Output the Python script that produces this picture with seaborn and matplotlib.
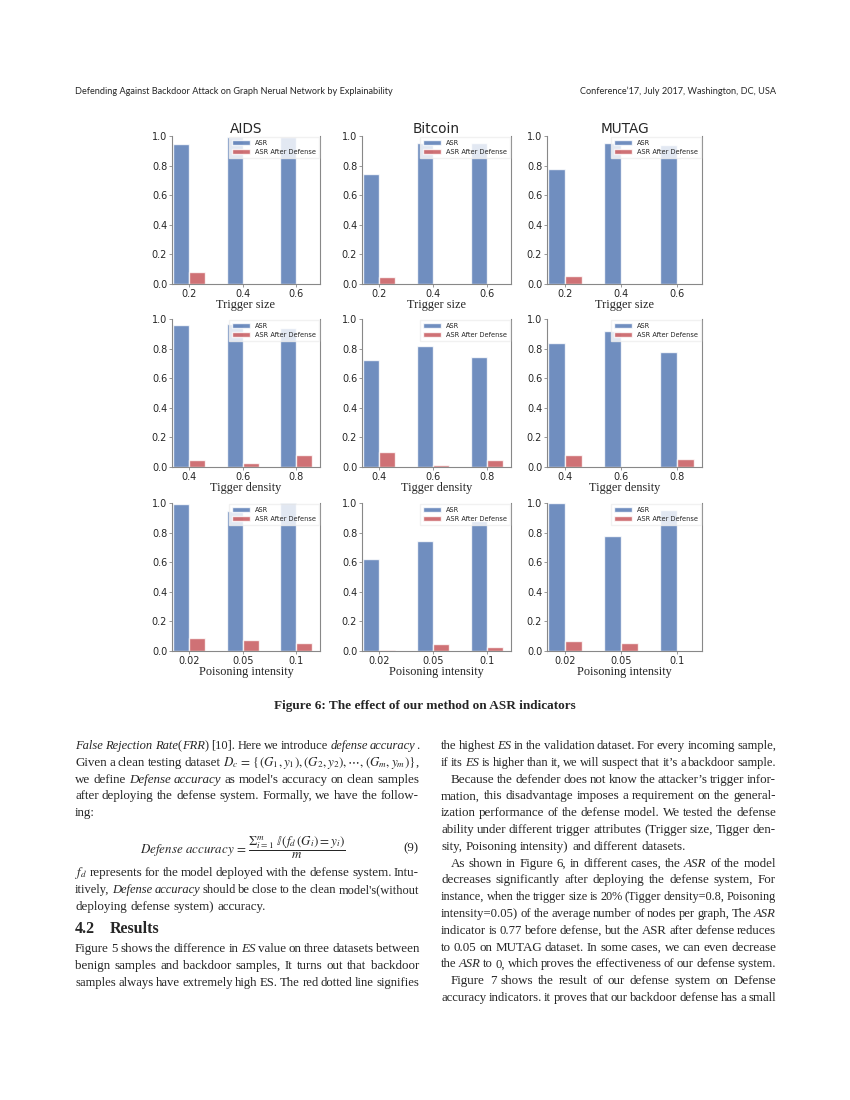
import re
import pandas as pd
import seaborn as sns
import matplotlib
matplotlib.use("Agg")
import matplotlib.pyplot as plt

# ---- data ----
datasets = ["AIDS", "Bitcoin", "MUTAG"]
row_labels = ["Trigger size", "Tigger density", "Poisoning intensity"]
trigger_size = ["0.2", "0.4", "0.6"]
trigger_density = ["0.4", "0.6", "0.8"]
poison_intensity = ["0.02", "0.05", "0.1"]

size_asr = [[0.945, 0.99, 0.99], [0.74, 0.955, 0.95], [0.78, 0.955, 0.94]]
size_after = [[0.08, 0.0, 0.0], [0.045, 0.0, 0.0], [0.055, 0.0, 0.0]]
density_asr = [[0.96, 0.965, 0.94], [0.725, 0.815, 0.74], [0.835, 0.92, 0.78]]
density_after = [[0.05, 0.025, 0.08], [0.10, 0.015, 0.045], [0.08, 0.0, 0.055]]
poison_asr = [[0.995, 0.945, 1.0], [0.625, 0.74, 0.88], [1.0, 0.78, 0.95]]
poison_after = [[0.085, 0.075, 0.055], [0.01, 0.045, 0.03], [0.07, 0.055, 0.0]]

series_names = ["ASR", "ASR After Defense"]
yticks = [0.0, 0.2, 0.4, 0.6, 0.8, 1.0]

header_left = "Defending Against Backdoor Attack on Graph Nerual Network by Explainability"
header_right = "Conference\u201917, July 2017, Washington, DC, USA"
caption = "Figure 6: The effect of our method on ASR indicators"

# (text, justified?, indented?)
left_col_a = [
    ("*False* *Rejection* *Rate*(*FRR*) [10]. Here we introduce *defense* *accuracy*.", True, False),
    (r"Given a clean testing dataset $D_c\,=\,\{(G_1, y_1), (G_2, y_2), \cdots, (G_m, y_m)\}$,", True, False),
    ("we define *Defense* *accuracy* as model's accuracy on clean samples", True, False),
    ("after deploying the defense system. Formally, we have the follow-", True, False),
    ("ing:", False, False),
]
left_col_b = [
    ("$f_d$ represents for the model deployed with the defense system. Intu-", True, False),
    ("itively, *Defense* *accuracy* should be close to the clean model's(without", True, False),
    ("deploying defense system) accuracy.", False, False),
]
left_col_c = [
    ("Figure 5 shows the difference in *ES* value on three datasets between", True, False),
    ("benign samples and backdoor samples, It turns out that backdoor", True, False),
    ("samples always have extremely high ES. The red dotted line signifies", True, False),
]
right_col = [
    ("the highest *ES* in the validation dataset. For every incoming sample,", True, False),
    ("if its *ES* is higher than it, we will suspect that it\u2019s a backdoor sample.", True, False),
    ("Because the defender does not know the attacker\u2019s trigger infor-", True, True),
    ("mation, this disadvantage imposes a requirement on the general-", True, False),
    ("ization performance of the defense model. We tested the defense", True, False),
    ("ability under different trigger attributes (Trigger size, Tigger den-", True, False),
    ("sity, Poisoning intensity) and different datasets.", False, False),
    ("As shown in Figure 6, in different cases, the *ASR* of the model", True, True),
    ("decreases significantly after deploying the defense system, For", True, False),
    ("instance, when the trigger size is 20% (Tigger density=0.8, Poisoning", True, False),
    ("intensity=0.05) of the average number of nodes per graph, The *ASR*", True, False),
    ("indicator is 0.77 before defense, but the ASR after defense reduces", True, False),
    ("to 0.05 on MUTAG dataset. In some cases, we can even decrease", True, False),
    ("the *ASR* to 0, which proves the effectiveness of our defense system.", True, False),
    ("Figure 7 shows the result of our defense system on Defense", True, True),
    ("accuracy indicators. it proves that our backdoor defense has a small", True, False),
]

W, H = 850, 1100
SERIF = "Liberation Serif"
BODY = 9.4

sns.set_style("ticks")
plt.rcParams["font.family"] = ["DejaVu Sans"]
plt.rcParams["mathtext.fontset"] = "stix"

fig = plt.figure(figsize=(W / 100, H / 100), dpi=100)
renderer = fig.canvas.get_renderer()


def fx(x):
    return x / W


def fy(y):
    return 1 - y / H


def split_words(line):
    words, cur, in_math = [], "", False
    for ch in line:
        if ch == "$":
            in_math = not in_math
        if ch == " " and not in_math:
            if cur:
                words.append(cur)
            cur = ""
        else:
            cur += ch
    if cur:
        words.append(cur)
    return words


SEG = re.compile(r"\$[^$]*\$|\*[^*]*\*|[^*$]+")


def draw_line(text, x0, x1, y, justify):
    """Place words one by one so the line can be justified like LaTeX."""
    words = []
    for w in split_words(text):
        pieces = []
        for seg in SEG.findall(w):
            style = "normal"
            if seg.startswith("*"):
                seg, style = seg[1:-1], "italic"
            t = fig.text(0, 0, seg, family=SERIF, fontsize=BODY,
                         style=style, va="baseline")
            pieces.append(t)
        words.append(pieces)

    def measure():
        return [[t.get_window_extent(renderer).width for t in wd] for wd in words]

    fs = BODY
    widths = measure()
    min_space = fs * 100 / 72 * 0.2
    total = sum(sum(w) for w in widths)
    # shrink a too-long line a little so it still fits the column
    if justify and total + min_space * (len(words) - 1) > x1 - x0:
        fs *= (x1 - x0 - min_space * (len(words) - 1)) / total
        for wd in words:
            for t in wd:
                t.set_fontsize(fs)
        widths = measure()
        total = sum(sum(w) for w in widths)
    space = fs * 100 / 72 * 0.25
    if justify and len(words) > 1:
        space = (x1 - x0 - total) / (len(words) - 1)
    x = x0
    for wd, ws in zip(words, widths):
        xx = x
        for t, pw in zip(wd, ws):
            t.set_position((fx(xx), fy(y)))
            xx += pw
        x += sum(ws) + space


def draw_block(lines, x0, x1, y0, step):
    for i, (txt, just, indent) in enumerate(lines):
        draw_line(txt, x0 + (10 if indent else 0), x1, y0 + i * step, just)


# ---- page furniture ----
fig.text(fx(75), fy(91), header_left, family="Lato", fontsize=6.6, va="center")
fig.text(fx(776), fy(91), header_right, family="Lato", fontsize=6.6,
         va="center", ha="right")
fig.text(fx(425), fy(706), caption, family=SERIF, fontsize=9.5,
         weight="bold", ha="center", va="center")

# ---- the 3x3 grid of bar charts ----
row_tops = [136, 319, 503]
col_lefts = [172, 362, 547]
col_widths = [148, 149, 155]
panel_h = 148

rows = [
    (trigger_size, size_asr, size_after),
    (trigger_density, density_asr, density_after),
    (poison_intensity, poison_asr, poison_after),
]
palette = {"ASR": "#4C72B0", "ASR After Defense": "#C44E52"}

for r, (cats, asr, after) in enumerate(rows):
    for c, name in enumerate(datasets):
        ax = fig.add_axes([fx(col_lefts[c]), fy(row_tops[r] + panel_h),
                           fx(col_widths[c]), panel_h / H])
        df = pd.DataFrame({
            "level": cats * 2,
            "value": asr[c] + after[c],
            "kind": [series_names[0]] * 3 + [series_names[1]] * 3,
        })
        sns.barplot(data=df, x="level", y="value", hue="kind", order=cats,
                    hue_order=series_names, palette=palette, width=0.6,
                    saturation=1, alpha=0.8, errorbar=None, ax=ax)
        ax.set_xlim(-0.32, 2.44)
        ax.set_ylim(0, 1.0)
        ax.set_yticks(yticks)
        ax.set_yticklabels([f"{v:.1f}" for v in yticks])
        ax.tick_params(labelsize=7.0, length=2, width=0.6, color="#888888",
                       pad=1.5)
        ax.set_ylabel("")
        ax.set_xlabel(row_labels[r], family=SERIF, fontsize=8.8, labelpad=0)
        for side in ["left", "bottom", "right"]:
            ax.spines[side].set_color("#888888")
            ax.spines[side].set_linewidth(0.8)
        ax.spines["top"].set_visible(False)
        ax.legend(loc="upper right", fontsize=4.8, framealpha=0.8,
                  borderaxespad=0.1, handlelength=2.6, handleheight=0.8,
                  labelspacing=0.45, borderpad=0.5, fancybox=False,
                  edgecolor="#eeeeee")
        if r == 0:
            ax.set_title(name, fontsize=9.8, pad=1.5)

# ---- body text ----
STEP = 16.8
draw_block(left_col_a, 75, 419, 749, STEP)
fig.text(fx(243), fy(848),
         r"$Defense\ accuracy\, =\, \dfrac{\Sigma_{i=1}^{m}\;\mathbb{I}\,(f_d\,(G_i) = y_i)}{m}$",
         fontsize=BODY, ha="center", va="center")
fig.text(fx(419), fy(848), "(9)", family=SERIF, fontsize=BODY,
         ha="right", va="center")
draw_block(left_col_b, 75, 419, 876, STEP)
fig.text(fx(75), fy(929), "4.2", family=SERIF, fontsize=11.5, weight="bold",
         va="center")
fig.text(fx(110), fy(929), "Results", family=SERIF, fontsize=11.5,
         weight="bold", va="center")
draw_block(left_col_c, 75, 419, 952, STEP)
draw_block(right_col, 441, 776, 749, STEP)

fig.savefig("out.png", dpi=100)
